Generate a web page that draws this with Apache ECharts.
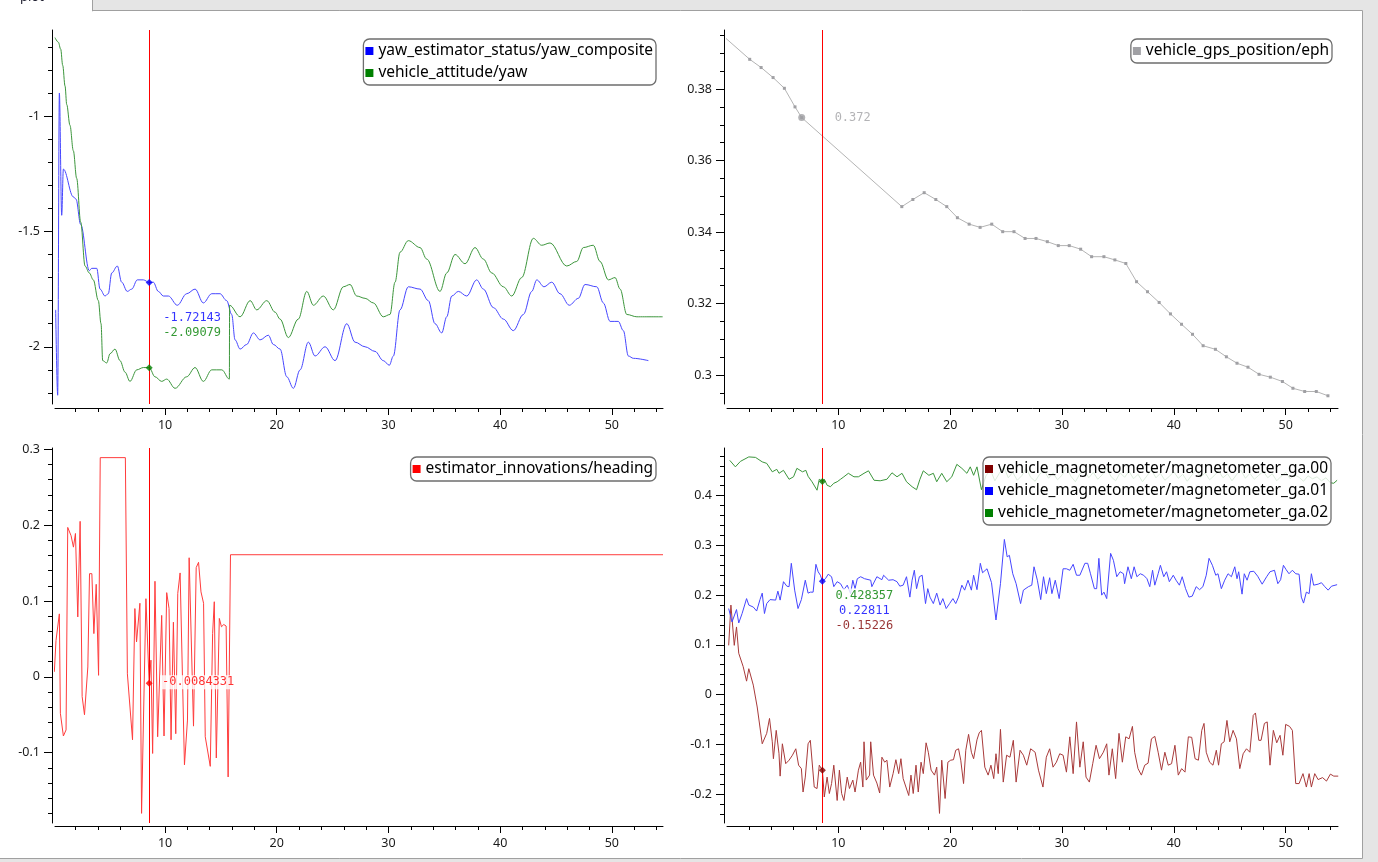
<!DOCTYPE html>
<html><head><meta charset="utf-8">
<script src="https://cdn.jsdelivr.net/npm/echarts@6/dist/echarts.min.js"></script>
<style>html,body{margin:0;padding:0;background:#e5e5e5;}#c{width:1378px;height:862px;}</style>
</head><body><div id="c"></div>
<script>
// ---------------- data ----------------
const CURSOR_T = 8.58;

const X_MAJOR = [10, 20, 30, 40, 50];
const X_MINOR = [2,4,6,8,12,14,16,18,22,24,26,28,32,34,36,38,42,44,46,48,52,54];

const TL_Y_MAJOR = [-2, -1.5, -1];
const TL_Y_MINOR = [-2.2,-2.1,-1.9,-1.8,-1.7,-1.6,-1.4,-1.3,-1.2,-1.1,-0.9,-0.8,-0.7];
const TR_Y_MAJOR = [0.3, 0.32, 0.34, 0.36, 0.38];
const TR_Y_MINOR = [0.295,0.305,0.31,0.315,0.325,0.33,0.335,0.345,0.35,0.355,0.365,0.37,0.375,0.385,0.39,0.395];
const BL_Y_MAJOR = [-0.1, 0, 0.1, 0.2, 0.3];
const BL_Y_MINOR = [-0.18,-0.16,-0.14,-0.12,-0.08,-0.06,-0.04,-0.02,0.02,0.04,0.06,0.08,0.12,0.14,0.16,0.18,0.22,0.24,0.26,0.28];
const BR_Y_MAJOR = [-0.2, -0.1, 0, 0.1, 0.2, 0.3, 0.4];
const BR_Y_MINOR = [-0.24,-0.22,-0.18,-0.16,-0.14,-0.12,-0.08,-0.06,-0.04,-0.02,0.02,0.04,0.06,0.08,0.12,0.14,0.16,0.18,0.22,0.24,0.26,0.28,0.32,0.34,0.36,0.38,0.42,0.44,0.46,0.48];

const NAME_COMPOSITE = 'yaw_estimator_status/yaw_composite';
const NAME_ATT_YAW = 'vehicle_attitude/yaw';
const NAME_EPH = 'vehicle_gps_position/eph';
const NAME_INNOV = 'estimator_innovations/heading';
const NAME_MAG0 = 'vehicle_magnetometer/magnetometer_ga.00';
const NAME_MAG1 = 'vehicle_magnetometer/magnetometer_ga.01';
const NAME_MAG2 = 'vehicle_magnetometer/magnetometer_ga.02';

const YAW_COMPOSITE = [[0.21,-1.84],[0.39,-2.21],[0.54,-0.90],[0.75,-1.43],[0.90,-1.23],[1.79,-1.35],[2.03,-1.36],[2.45,-1.47],[3.22,-1.67],[3.44,-1.66],[3.89,-1.66],[4.18,-1.75],[4.63,-1.78],[4.92,-1.77],[5.23,-1.68],[5.73,-1.65],[6.12,-1.72],[6.62,-1.76],[7.02,-1.75],[7.52,-1.71],[8.06,-1.71],[8.59,-1.72143],[8.95,-1.72],[9.40,-1.76],[9.85,-1.78],[10.30,-1.78],[11.10,-1.82],[11.94,-1.77],[12.69,-1.75],[13.43,-1.81],[14.18,-1.77],[14.92,-1.77],[15.52,-1.80],[15.97,-1.86],[16.27,-1.97],[16.72,-2.01],[17.31,-1.99],[17.91,-1.94],[18.51,-1.97],[19.25,-1.95],[19.70,-1.99],[20.30,-2.01],[20.90,-2.13],[21.49,-2.18],[22.09,-2.10],[22.83,-1.98],[23.43,-2.04],[24.33,-2.00],[25.22,-2.06],[26.27,-1.90],[27.01,-1.98],[27.91,-2.00],[28.80,-2.02],[29.54,-2.06],[30.08,-2.08],[30.44,-2.04],[31.04,-1.84],[31.78,-1.74],[32.83,-1.75],[33.57,-1.80],[34.17,-1.90],[34.77,-1.94],[35.22,-1.87],[35.67,-1.78],[36.26,-1.76],[37.01,-1.78],[37.90,-1.71],[38.50,-1.75],[39.39,-1.83],[40.29,-1.88],[41.18,-1.93],[42.08,-1.86],[42.83,-1.76],[43.28,-1.71],[43.93,-1.74],[44.62,-1.72],[45.36,-1.77],[46.19,-1.82],[47.00,-1.79],[47.60,-1.73],[48.65,-1.74],[49.24,-1.81],[49.84,-1.89],[50.58,-1.89],[51.03,-1.93],[51.48,-2.04],[51.93,-2.05],[53.27,-2.06]];

const ATTITUDE_YAW = [[0.15,-0.66],[0.45,-0.68],[0.66,-0.71],[0.84,-0.78],[1.05,-0.87],[1.20,-0.95],[1.49,-1.04],[1.79,-1.15],[2.09,-1.27],[2.45,-1.46],[2.84,-1.65],[3.22,-1.68],[3.58,-1.71],[4.03,-1.80],[4.27,-1.90],[4.42,-2.06],[4.78,-2.07],[5.08,-2.03],[5.52,-2.01],[5.97,-2.06],[6.42,-2.11],[6.86,-2.15],[7.47,-2.10],[8.06,-2.09],[8.59,-2.09079],[9.10,-2.13],[9.70,-2.15],[10.15,-2.14],[10.90,-2.18],[11.94,-2.13],[12.69,-2.09],[13.43,-2.15],[14.18,-2.10],[15.08,-2.10],[15.76,-2.14],[15.78,-1.82],[16.72,-1.87],[17.62,-1.80],[18.21,-1.84],[19.11,-1.80],[19.85,-1.85],[20.30,-1.88],[21.04,-1.96],[21.93,-1.88],[22.69,-1.76],[23.28,-1.82],[24.17,-1.78],[25.07,-1.84],[25.96,-1.74],[26.56,-1.73],[27.16,-1.78],[27.91,-1.79],[28.65,-1.81],[29.54,-1.87],[30.14,-1.86],[30.59,-1.72],[31.04,-1.59],[31.78,-1.54],[32.83,-1.57],[33.43,-1.62],[34.62,-1.76],[35.22,-1.68],[35.96,-1.60],[36.86,-1.64],[37.75,-1.57],[38.50,-1.62],[39.25,-1.68],[40.29,-1.74],[41.04,-1.78],[41.93,-1.70],[42.97,-1.53],[43.72,-1.56],[44.47,-1.55],[45.96,-1.65],[46.86,-1.63],[47.45,-1.57],[48.34,-1.56],[48.94,-1.63],[49.69,-1.71],[50.29,-1.70],[50.74,-1.75],[51.34,-1.86],[52.24,-1.87],[54.55,-1.87]];

const GPS_EPH = [[-0.9,0.3965],[2.08,0.3883],[3.10,0.3860],[4.17,0.3832],[5.18,0.3802],[6.13,0.3750],[6.73,0.372],[15.68,0.3471],[16.67,0.3491],[17.68,0.3510],[18.72,0.3491],[19.70,0.3471],[20.65,0.3440],[21.70,0.3422],[22.68,0.3413],[23.72,0.3422],[24.70,0.3401],[25.71,0.3401],[26.70,0.3382],[27.68,0.3382],[28.69,0.3373],[29.67,0.3362],[30.65,0.3362],[31.67,0.3352],[32.65,0.3331],[33.75,0.3331],[34.73,0.3322],[35.71,0.3312],[36.67,0.3261],[37.65,0.3233],[38.69,0.3203],[39.70,0.3171],[40.69,0.3142],[41.67,0.3114],[42.62,0.3082],[43.72,0.3072],[44.70,0.3051],[45.65,0.3033],[46.63,0.3022],[47.62,0.3002],[48.63,0.2994],[49.71,0.2982],[50.65,0.2963],[51.70,0.2954],[52.74,0.2954],[53.78,0.2942]];

const INNOV_HEADING = [[0.09,0.0066],[0.24,0.048],[0.54,0.083],[0.63,-0.048],[0.90,-0.078],[1.14,-0.070],[1.29,0.197],[1.59,0.186],[1.80,0.171],[1.98,0.189],[2.19,0.079],[2.40,0.205],[2.58,-0.026],[2.79,-0.050],[3.09,0.013],[3.24,0.136],[3.45,0.136],[3.63,0.057],[3.84,0.122],[4.05,0.002],[4.20,0.289],[6.45,0.289],[6.63,0.004],[7.09,-0.083],[7.30,0.090],[7.45,0.046],[7.75,0.097],[7.90,-0.180],[8.29,0.103],[8.58,-0.0084331],[8.74,0.022],[8.89,-0.101],[9.10,0.126],[9.34,-0.079],[9.70,0.081],[9.91,-0.078],[10.15,0.111],[10.36,0.090],[10.54,-0.083],[10.75,0.072],[10.96,-0.075],[11.14,0.110],[11.35,0.137],[11.74,-0.116],[12.01,-0.057],[12.16,0.157],[12.55,-0.065],[12.79,0.144],[13.00,0.151],[13.22,0.112],[13.45,0.097],[13.60,-0.079],[14.05,-0.118],[14.26,0.057],[14.41,0.099],[14.59,-0.107],[14.86,0.077],[15.05,0.066],[15.26,0.069],[15.47,0.067],[15.65,-0.132],[15.86,0.161],[54.58,0.161]];

const MAG_GA00 = [[0.2,0.099],[0.4,0.180],[0.7,0.099],[0.9,0.136],[1.1,0.083],[1.5,0.056],[1.8,0.027],[2.0,0.052],[2.4,0.019],[2.75,-0.025],[3.2,-0.099],[3.6,-0.078],[3.85,-0.048],[4.1,-0.095],[4.2,-0.129],[4.45,-0.072],[4.7,-0.119],[4.8,-0.164],[5.0,-0.099],[5.3,-0.139],[5.6,-0.132],[5.9,-0.122],[6.2,-0.109],[6.45,-0.142],[6.7,-0.149],[6.85,-0.196],[7.05,-0.166],[7.3,-0.099],[7.5,-0.092],[7.65,-0.091],[7.85,-0.186],[8.1,-0.189],[8.3,-0.142],[8.58,-0.15226],[8.75,-0.206],[9.0,-0.166],[9.2,-0.199],[9.4,-0.179],[9.6,-0.142],[9.9,-0.213],[10.1,-0.152],[10.3,-0.199],[10.5,-0.213],[10.8,-0.166],[11.0,-0.189],[11.3,-0.172],[11.5,-0.196],[11.8,-0.152],[12.0,-0.136],[12.2,-0.186],[12.3,-0.095],[12.5,-0.172],[12.8,-0.162],[12.9,-0.095],[13.15,-0.162],[13.45,-0.178],[13.7,-0.198],[13.9,-0.126],[14.15,-0.136],[14.35,-0.132],[14.6,-0.186],[14.9,-0.159],[15.15,-0.131],[15.4,-0.159],[15.6,-0.129],[15.8,-0.169],[16.3,-0.203],[16.5,-0.162],[16.7,-0.199],[16.95,-0.142],[17.15,-0.196],[17.4,-0.136],[17.6,-0.159],[17.85,-0.097],[18.05,-0.116],[18.3,-0.152],[18.6,-0.162],[18.8,-0.146],[19.05,-0.239],[19.25,-0.132],[19.55,-0.209],[19.8,-0.136],[20.05,-0.132],[20.3,-0.131],[20.5,-0.112],[20.75,-0.109],[20.95,-0.132],[21.2,-0.179],[21.4,-0.112],[21.65,-0.080],[21.9,-0.116],[22.1,-0.129],[22.4,-0.091],[22.6,-0.077],[22.8,-0.072],[23.1,-0.146],[23.4,-0.162],[23.65,-0.142],[23.9,-0.169],[24.1,-0.119],[24.3,-0.159],[24.5,-0.070],[24.75,-0.176],[25.05,-0.122],[25.35,-0.126],[25.65,-0.092],[25.9,-0.176],[26.25,-0.112],[26.55,-0.122],[26.85,-0.142],[27.2,-0.109],[27.6,-0.116],[27.9,-0.152],[28.3,-0.186],[28.6,-0.126],[28.9,-0.109],[29.2,-0.146],[29.5,-0.136],[29.8,-0.119],[30.1,-0.122],[30.4,-0.156],[30.7,-0.085],[31.0,-0.159],[31.3,-0.055],[31.6,-0.146],[31.9,-0.095],[32.15,-0.166],[32.45,-0.176],[32.75,-0.139],[33.05,-0.102],[33.35,-0.129],[33.7,-0.116],[34.0,-0.099],[34.2,-0.162],[34.5,-0.109],[34.8,-0.169],[35.1,-0.078],[35.4,-0.136],[35.7,-0.085],[36.0,-0.089],[36.3,-0.064],[36.5,-0.116],[36.8,-0.149],[37.1,-0.162],[37.4,-0.142],[37.7,-0.138],[38.0,-0.089],[38.3,-0.084],[38.6,-0.116],[38.9,-0.152],[39.2,-0.116],[39.5,-0.142],[39.8,-0.139],[40.1,-0.102],[40.4,-0.162],[40.7,-0.149],[41.0,-0.156],[41.3,-0.085],[41.6,-0.086],[41.9,-0.129],[42.2,-0.132],[42.5,-0.072],[42.7,-0.058],[42.9,-0.116],[43.2,-0.136],[43.5,-0.142],[43.8,-0.112],[44.0,-0.142],[44.25,-0.099],[44.5,-0.095],[44.75,-0.052],[45.0,-0.095],[45.3,-0.072],[45.6,-0.089],[45.9,-0.149],[46.2,-0.119],[46.5,-0.109],[46.8,-0.116],[47.1,-0.042],[47.3,-0.037],[47.6,-0.092],[47.8,-0.092],[48.1,-0.058],[48.35,-0.055],[48.6,-0.142],[48.9,-0.072],[49.2,-0.097],[49.5,-0.082],[49.75,-0.122],[50.0,-0.060],[50.35,-0.064],[50.6,-0.072],[50.9,-0.179],[51.2,-0.179],[51.55,-0.159],[51.85,-0.186],[52.1,-0.159],[52.3,-0.186],[52.6,-0.159],[52.9,-0.171],[53.3,-0.167],[53.65,-0.174],[54.0,-0.160],[54.3,-0.164],[54.7,-0.164]];

const MAG_GA01 = [[0.2,0.173],[0.5,0.146],[0.9,0.171],[1.1,0.144],[1.4,0.163],[1.8,0.193],[2.0,0.180],[2.4,0.176],[2.7,0.168],[3.0,0.191],[3.2,0.204],[3.4,0.163],[3.6,0.183],[3.9,0.191],[4.4,0.190],[4.6,0.208],[4.8,0.190],[5.1,0.227],[5.4,0.218],[5.6,0.217],[5.8,0.264],[6.1,0.210],[6.4,0.173],[6.7,0.191],[7.05,0.230],[7.3,0.204],[7.5,0.206],[7.75,0.206],[8.0,0.262],[8.2,0.247],[8.4,0.240],[8.58,0.22811],[8.85,0.233],[9.1,0.242],[9.4,0.237],[9.6,0.217],[9.9,0.227],[10.2,0.223],[10.5,0.211],[10.8,0.220],[11.1,0.203],[11.3,0.230],[11.5,0.213],[11.7,0.233],[12.0,0.237],[12.35,0.233],[12.9,0.230],[13.0,0.217],[13.45,0.237],[13.9,0.231],[14.05,0.240],[14.5,0.230],[14.9,0.231],[15.25,0.227],[15.5,0.218],[15.8,0.220],[16.1,0.237],[16.4,0.196],[16.6,0.230],[16.8,0.250],[17.0,0.213],[17.25,0.237],[17.5,0.240],[17.8,0.183],[18.0,0.213],[18.2,0.196],[18.5,0.183],[18.8,0.204],[19.1,0.180],[19.35,0.193],[19.65,0.173],[19.95,0.183],[20.25,0.193],[20.5,0.183],[20.75,0.196],[21.05,0.220],[21.3,0.210],[21.6,0.230],[21.9,0.210],[22.1,0.240],[22.4,0.211],[22.7,0.264],[22.9,0.245],[23.3,0.253],[23.7,0.225],[24.1,0.150],[24.5,0.223],[24.85,0.312],[25.1,0.277],[25.3,0.280],[25.6,0.243],[25.9,0.223],[26.3,0.183],[26.55,0.210],[27.0,0.217],[27.3,0.220],[27.5,0.257],[27.8,0.230],[28.1,0.191],[28.35,0.237],[28.6,0.203],[28.9,0.235],[29.1,0.203],[29.4,0.230],[29.75,0.193],[30.1,0.253],[30.4,0.253],[30.7,0.250],[31.0,0.262],[31.3,0.240],[31.6,0.240],[32.05,0.264],[32.3,0.264],[32.55,0.243],[32.9,0.213],[33.1,0.213],[33.3,0.274],[33.55,0.200],[33.75,0.206],[34.0,0.193],[34.35,0.284],[34.6,0.270],[34.9,0.237],[35.2,0.247],[35.5,0.243],[35.6,0.223],[35.9,0.257],[36.2,0.233],[36.45,0.257],[36.7,0.237],[37.0,0.243],[37.3,0.240],[37.6,0.233],[37.85,0.217],[38.1,0.250],[38.3,0.220],[38.6,0.243],[38.8,0.260],[39.1,0.237],[39.35,0.247],[39.6,0.227],[39.95,0.240],[40.2,0.230],[40.5,0.220],[40.75,0.237],[41.05,0.213],[41.35,0.196],[41.65,0.198],[42.0,0.217],[42.3,0.211],[42.6,0.217],[42.9,0.240],[43.15,0.274],[43.45,0.260],[43.75,0.240],[43.95,0.243],[44.25,0.213],[44.55,0.230],[44.85,0.243],[45.15,0.237],[45.45,0.257],[45.65,0.233],[45.8,0.247],[46.1,0.202],[46.3,0.243],[46.55,0.230],[46.8,0.247],[47.15,0.248],[47.5,0.238],[47.9,0.222],[48.3,0.237],[48.6,0.247],[49.0,0.250],[49.3,0.223],[49.55,0.231],[49.8,0.260],[50.05,0.251],[50.3,0.243],[50.6,0.250],[50.9,0.243],[51.2,0.242],[51.4,0.196],[51.6,0.184],[51.85,0.206],[52.1,0.203],[52.3,0.243],[52.5,0.220],[52.9,0.222],[53.2,0.225],[53.5,0.217],[53.8,0.210],[54.1,0.218],[54.6,0.221]];

const MAG_GA02 = [[0.3,0.471],[0.8,0.458],[1.25,0.469],[2.0,0.478],[2.6,0.477],[3.2,0.468],[3.6,0.465],[4.1,0.448],[4.5,0.453],[4.7,0.445],[5.1,0.451],[5.6,0.433],[6.0,0.438],[6.3,0.455],[6.8,0.448],[7.1,0.451],[7.3,0.439],[7.65,0.428],[8.1,0.411],[8.3,0.433],[8.58,0.428357],[8.75,0.433],[9.0,0.421],[9.3,0.418],[9.6,0.425],[9.9,0.428],[10.2,0.433],[10.5,0.438],[10.9,0.445],[11.4,0.438],[11.8,0.438],[12.3,0.445],[12.7,0.450],[13.2,0.431],[13.75,0.430],[14.35,0.433],[14.8,0.446],[15.25,0.438],[15.7,0.445],[16.1,0.428],[16.6,0.418],[17.0,0.412],[17.3,0.433],[17.6,0.450],[18.1,0.441],[18.5,0.445],[18.8,0.428],[19.25,0.445],[19.7,0.428],[20.15,0.438],[20.6,0.463],[21.05,0.455],[21.5,0.445],[21.8,0.458],[22.1,0.441],[22.4,0.458],[22.8,0.412],[23.2,0.440],[23.6,0.452],[24.0,0.430],[24.4,0.445],[24.8,0.458],[25.2,0.436],[25.6,0.447],[26.0,0.431],[26.4,0.440],[26.8,0.455],[27.2,0.437],[27.6,0.429],[28.0,0.443],[28.4,0.451],[28.8,0.435],[29.2,0.446],[29.6,0.432],[30.0,0.441],[30.4,0.457],[30.8,0.439],[31.2,0.428],[31.6,0.444],[32.0,0.450],[32.4,0.436],[32.8,0.447],[33.2,0.433],[33.6,0.442],[34.0,0.455],[34.4,0.438],[34.8,0.430],[35.2,0.446],[35.6,0.437],[36.0,0.449],[36.4,0.434],[36.8,0.443],[37.2,0.428],[37.6,0.440],[38.0,0.452],[38.4,0.436],[38.8,0.445],[39.2,0.431],[39.6,0.439],[40.0,0.448],[40.4,0.435],[40.8,0.443],[41.2,0.429],[41.6,0.441],[42.0,0.454],[42.4,0.437],[42.8,0.446],[43.2,0.432],[43.6,0.440],[44.0,0.450],[44.4,0.436],[44.8,0.444],[45.2,0.430],[45.6,0.442],[46.0,0.451],[46.4,0.435],[46.8,0.445],[47.2,0.433],[47.6,0.441],[48.0,0.449],[48.4,0.436],[48.8,0.444],[49.2,0.430],[49.6,0.439],[50.0,0.447],[50.4,0.434],[50.8,0.442],[51.2,0.437],[51.6,0.429],[52.0,0.440],[52.4,0.434],[52.8,0.438],[53.2,0.430],[53.6,0.436],[54.0,0.426],[54.3,0.425],[54.6,0.431]];

// values shown at the cursor
const TL_CURSOR_VALUES = [-1.72143, -2.09079];
const TR_CURSOR_POINT = [6.73, 0.372];
const BL_CURSOR_VALUES = [-0.0084331];
const BR_CURSOR_VALUES = [0.428357, 0.22811, -0.15226];

// ---------------- chart ----------------
const FONT = '"Noto Sans", "DejaVu Sans", sans-serif';
const MONO = '"DejaVu Sans Mono", monospace';

const GRIDS = [
  {left: 55, top: 30, width: 608, height: 374},
  {left: 727, top: 30, width: 611, height: 374},
  {left: 55, top: 448, width: 608, height: 375},
  {left: 727, top: 448, width: 611, height: 375}
];
const XR = [[0.15, 54.58], [0.05, 54.68], [0.15, 54.58], [0.05, 54.68]];
const YR = [[-2.248, -0.627], [0.2919, 0.3965], [-0.1927, 0.3017], [-0.2583, 0.4959]];
const YMAJ = [TL_Y_MAJOR, TR_Y_MAJOR, BL_Y_MAJOR, BR_Y_MAJOR];
const YMIN = [TL_Y_MINOR, TR_Y_MINOR, BL_Y_MINOR, BR_Y_MINOR];
const XOFF = [4, 4, 3, 3];

const xAxes = [], yAxes = [];
for (let g = 0; g < 4; g++) {
  xAxes.push({type: 'value', gridIndex: g, min: XR[g][0], max: XR[g][1], position: 'bottom', offset: XOFF[g],
    axisLine: {show: true, onZero: false, lineStyle: {color: '#000', width: 1}},
    axisTick: {show: true, length: 7, customValues: X_MAJOR, lineStyle: {color: '#000', width: 1}},
    axisLabel: {show: true, customValues: X_MAJOR, margin: 11, fontFamily: FONT, fontSize: 12.5, color: '#1a1a1a'},
    splitLine: {show: false}});
  xAxes.push({type: 'value', gridIndex: g, min: XR[g][0], max: XR[g][1], position: 'bottom', offset: XOFF[g],
    axisLine: {show: false, onZero: false},
    axisTick: {show: true, length: 4, customValues: X_MINOR, lineStyle: {color: '#000', width: 1}},
    axisLabel: {show: false}, splitLine: {show: false}});
  yAxes.push({type: 'value', gridIndex: g, min: YR[g][0], max: YR[g][1], position: 'left', offset: 3,
    axisLine: {show: true, onZero: false, lineStyle: {color: '#000', width: 1}},
    axisTick: {show: true, length: 8, customValues: YMAJ[g], lineStyle: {color: '#000', width: 1}},
    axisLabel: {show: true, customValues: YMAJ[g], margin: 12, fontFamily: FONT, fontSize: 12.5, color: '#1a1a1a'},
    splitLine: {show: false}});
  yAxes.push({type: 'value', gridIndex: g, min: YR[g][0], max: YR[g][1], position: 'left', offset: 3,
    axisLine: {show: false, onZero: false},
    axisTick: {show: true, length: 4, customValues: YMIN[g], lineStyle: {color: '#000', width: 1}},
    axisLabel: {show: false}, splitLine: {show: false}});
}

const cursorLine = {
  silent: true, symbol: ['none', 'none'], animation: false,
  label: {show: false}, lineStyle: {color: '#ff0000', width: 1, type: 'solid'},
  emphasis: {disabled: true},
  data: [{xAxis: CURSOR_T}]
};

function lineSeries(name, data, g, pure, light, extra) {
  return Object.assign({
    name, type: 'line', data, xAxisIndex: 2 * g, yAxisIndex: 2 * g,
    showSymbol: false, symbol: 'none', animation: false, clip: true,
    itemStyle: {color: pure}, lineStyle: {color: light, width: 1},
    emphasis: {disabled: true}, z: 2
  }, extra || {});
}

function cursorLabel(color, dx, dy) {
  return {show: true, position: 'inside', offset: [dx, dy], align: 'center', verticalAlign: 'middle',
    fontFamily: MONO, fontSize: 12, color: color, backgroundColor: '#fff', padding: [1, 2],
    formatter: p => String(p.value[1])};
}

function cursorSeries(g, points) {
  return {type: 'scatter', xAxisIndex: 2 * g, yAxisIndex: 2 * g, animation: false, silent: true, z: 5,
    data: points};
}

const SMOOTH = {smooth: 0.35, smoothMonotone: 'x'};

const series = [
  lineSeries(NAME_COMPOSITE, YAW_COMPOSITE, 0, '#0000ff', '#4646ff', Object.assign({markLine: cursorLine}, SMOOTH)),
  lineSeries(NAME_ATT_YAW, ATTITUDE_YAW, 0, '#008000', '#3c963c', SMOOTH),
  lineSeries(NAME_EPH, GPS_EPH, 1, '#a0a0a4', '#b4b4b4', {showSymbol: true, symbol: 'rect', symbolSize: 3, markLine: cursorLine,
    itemStyle: {color: '#a0a0a4'}}),
  lineSeries(NAME_INNOV, INNOV_HEADING, 2, '#ff0000', '#ff3c3c', {markLine: cursorLine}),
  lineSeries(NAME_MAG0, MAG_GA00, 3, '#800000', '#a83a3a', {markLine: cursorLine}),
  lineSeries(NAME_MAG1, MAG_GA01, 3, '#0000ff', '#4646ff'),
  lineSeries(NAME_MAG2, MAG_GA02, 3, '#008000', '#3c963c'),
  cursorSeries(0, [
    {value: [CURSOR_T, TL_CURSOR_VALUES[0]], symbol: 'diamond', symbolSize: 7, itemStyle: {color: '#0000ff'}, label: cursorLabel('#0000ff', 43, 35)},
    {value: [CURSOR_T, TL_CURSOR_VALUES[1]], symbol: 'diamond', symbolSize: 7, itemStyle: {color: '#008000'}, label: cursorLabel('#008000', 43, -35)}
  ]),
  cursorSeries(1, [
    {value: TR_CURSOR_POINT, symbol: 'circle', symbolSize: 7, itemStyle: {color: '#a0a0a4'}, label: cursorLabel('#a0a0a4', 51, 0)}
  ]),
  cursorSeries(2, [
    {value: [CURSOR_T, BL_CURSOR_VALUES[0]], symbol: 'diamond', symbolSize: 7, itemStyle: {color: '#ff0000'}, label: cursorLabel('#ff0000', 49, -1)}
  ]),
  cursorSeries(3, [
    {value: [CURSOR_T, BR_CURSOR_VALUES[0]], symbol: 'diamond', symbolSize: 7, itemStyle: {color: '#008000'}, label: cursorLabel('#008000', 42, 114)},
    {value: [CURSOR_T, BR_CURSOR_VALUES[1]], symbol: 'diamond', symbolSize: 7, itemStyle: {color: '#0000ff'}, label: cursorLabel('#0000ff', 42, 29.5)},
    {value: [CURSOR_T, BR_CURSOR_VALUES[2]], symbol: 'diamond', symbolSize: 7, itemStyle: {color: '#800000'}, label: cursorLabel('#800000', 42, -144)}
  ])
];

const legendCommon = {
  orient: 'vertical', icon: 'rect', itemWidth: 8, itemHeight: 8, itemGap: 0,
  padding: [1, 3, 1, 2], selectedMode: false,
  textStyle: {fontFamily: FONT, fontSize: 15.5, color: '#000', lineHeight: 22},
  borderColor: '#6e6e6e', borderWidth: 1.3, borderRadius: 6,
  backgroundColor: 'rgba(255,255,255,0.82)'
};
const legends = [
  Object.assign({}, legendCommon, {data: [NAME_COMPOSITE, NAME_ATT_YAW], right: 722, top: 39}),
  Object.assign({}, legendCommon, {data: [NAME_EPH], right: 46, top: 39}),
  Object.assign({}, legendCommon, {data: [NAME_INNOV], right: 722, top: 457}),
  Object.assign({}, legendCommon, {data: [NAME_MAG0, NAME_MAG1, NAME_MAG2], right: 47, top: 457})
];

const chrome = [
  {type: 'rect', silent: true, z: -10, shape: {x: -1.5, y: 10.5, width: 1364, height: 848}, style: {fill: '#ffffff', stroke: '#a0a0a0', lineWidth: 1}},
  {type: 'rect', silent: true, z: -9, shape: {x: -1.5, y: -3, width: 94, height: 14}, style: {fill: '#ffffff', stroke: '#a0a0a0', lineWidth: 1}},
  {type: 'rect', silent: true, z: -8, shape: {x: -1, y: 9, width: 93, height: 4}, style: {fill: '#ffffff'}},
  {type: 'text', silent: true, z: -7, x: 20, y: 3.5, style: {text: 'plot', font: '13px ' + FONT, fill: '#223', verticalAlign: 'bottom'}},
  {type: 'text', silent: true, z: -7, x: 74, y: 2.5, style: {text: '×', font: '12px ' + FONT, fill: '#444', verticalAlign: 'bottom'}}
];

const chart = echarts.init(document.getElementById('c'), null, {renderer: 'canvas'});
chart.setOption({
  backgroundColor: '#e5e5e5',
  animation: false,
  grid: GRIDS,
  xAxis: xAxes,
  yAxis: yAxes,
  legend: legends,
  graphic: {elements: chrome},
  series: series
});
</script>
</body></html>
